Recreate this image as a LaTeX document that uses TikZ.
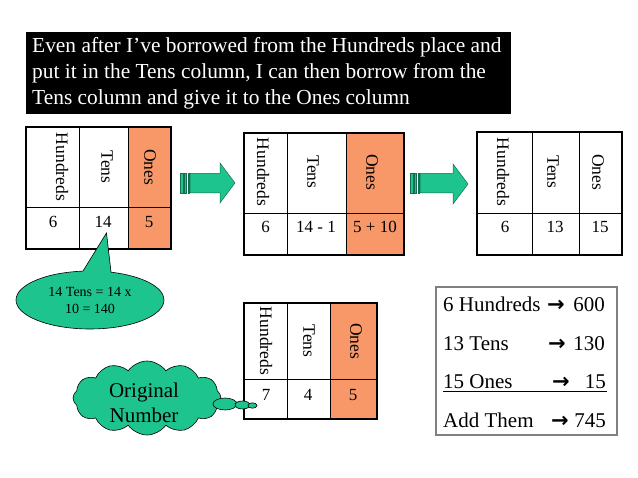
\documentclass[tikz,border=0pt]{standalone}
\usepackage{fontspec}
\setmainfont{Liberation Serif}
\newfontfamily\symfont{DejaVu Sans}
\usetikzlibrary{shapes.symbols,shapes.callouts}
\definecolor{onesorange}{RGB}{248,152,104}
\definecolor{tealgreen}{RGB}{30,196,142}
\definecolor{arrowedge}{RGB}{20,110,80}
\begin{document}
\begin{tikzpicture}[x=1pt,y=-1pt,
  outerline/.style={draw=black,line width=1.6pt},
  innerline/.style={draw=black,line width=0.8pt},
  hdr/.style={font=\fontsize{17.5}{20}\selectfont,rotate=-90,inner sep=0pt},
  num/.style={font=\fontsize{17}{20}\selectfont,anchor=base,inner sep=0pt},
  titletext/.style={font=\fontsize{21.4}{26}\selectfont,text=white,anchor=base west,inner sep=0pt},
  sumtext/.style={font=\fontsize{21}{25}\selectfont,anchor=base west,inner sep=0pt},
  sumnum/.style={font=\fontsize{21}{25}\selectfont,anchor=base east,inner sep=0pt},
  sumarrow/.style={font=\symfont\bfseries\fontsize{21}{25}\selectfont,anchor=base,inner sep=0pt},
  blockarrow/.style={fill=tealgreen,draw=arrowedge,line width=0.5pt},
  greenshape/.style={fill=tealgreen,draw=black,line width=0.6pt}]
\useasboundingbox (0,0) rectangle (638,478);
\fill[white] (0,0) rectangle (638,478);

% title
\fill[black] (26,32) rectangle (511,114);
\node[titletext] (t1) at (32,53) {Even after I’ve borrowed from the Hundreds place and};
\node[titletext] (t2) at (32,79) {put it in the Tens column, I can then borrow from the};
\node[titletext] (t3) at (32,105) {Tens column and give it to the Ones column};

% table 1
\fill[onesorange] (128,127) rectangle (171,249);
\draw[innerline] (26,207) -- (171,207) (79,127) -- (79,249) (128,127) -- (128,249);
\draw[outerline] (26,127) rectangle (171,249);
\node[hdr] (a1) at (62,167) {Hundreds};
\node[hdr] (a2) at (107,167) {Tens};
\node[hdr] (a3) at (150,167) {Ones};
\node[num] (an1) at (53,228) {6};
\node[num] (an2) at (103,228) {14};
\node[num] (an3) at (149,228) {5};

% table 2
\fill[onesorange] (346,133) rectangle (404,255);
\draw[innerline] (244,213) -- (404,213) (287,133) -- (287,255) (346,133) -- (346,255);
\draw[outerline] (244,133) rectangle (404,255);
\node[hdr] (b1) at (263,172) {Hundreds};
\node[hdr] (b2) at (313,172) {Tens};
\node[hdr] (b3) at (372,172) {Ones};
\node[num] (bn1) at (265.5,233) {6};
\node[num] (bn2) at (316,233) {14 - 1};
\node[num] (bn3) at (375,233) {5 + 10};

% table 3
\draw[innerline] (477,213) -- (622,213) (532,132) -- (532,255) (579,132) -- (579,255);
\draw[outerline] (477,132) rectangle (622,255);
\node[hdr] (c1) at (503,172) {Hundreds};
\node[hdr] (c2) at (553,172) {Tens};
\node[hdr] (c3) at (598,172) {Ones};
\node[num] (cn1) at (505,233) {6};
\node[num] (cn2) at (555,233) {13};
\node[num] (cn3) at (600,233) {15};

% table 4
\fill[onesorange] (330,303) rectangle (377,419);
\draw[innerline] (244,379) -- (377,379) (287,303) -- (287,419) (330,303) -- (330,419);
\draw[outerline] (244,303) rectangle (377,419);
\node[hdr] (d1) at (266,341) {Hundreds};
\node[hdr] (d2) at (309,341) {Tens};
\node[hdr] (d3) at (356,341) {Ones};
\node[num] (dn1) at (266,401) {7};
\node[num] (dn2) at (308,401) {4};
\node[num] (dn3) at (353,401) {5};

% block arrow 1
\filldraw[blockarrow] (180,173.5) rectangle (183,193);
\filldraw[blockarrow] (184.3,173.5) rectangle (186.6,193);
\filldraw[blockarrow] (187.8,173.5) rectangle (189.2,193);
\filldraw[blockarrow] (190,173.5) -- (220,173.5) -- (220,163) -- (235,183) -- (220,203) -- (220,193) -- (190,193) -- cycle;

% block arrow 2
\filldraw[blockarrow] (410,173.5) rectangle (413,193);
\filldraw[blockarrow] (414.3,173.5) rectangle (416.6,193);
\filldraw[blockarrow] (417.8,173.5) rectangle (419.2,193);
\filldraw[blockarrow] (420,173.5) -- (453,173.5) -- (453,164) -- (468,184) -- (453,204) -- (453,193) -- (420,193) -- cycle;

% callout
\node[ellipse callout,greenshape,minimum width=148pt,minimum height=58pt,
  callout absolute pointer={(106.5,233)},callout pointer arc=22,
  align=center,font=\fontsize{14}{17}\selectfont,inner sep=0pt] (callout) at (90,300) {14 Tens = 14 x\\10 = 140};

% thought cloud
\node[cloud,greenshape,cloud puffs=12,cloud puff arc=110,aspect=2,
  minimum width=148pt,minimum height=74pt,inner sep=0pt] (cloud) at (147,398) {};
\node[align=center,font=\fontsize{21}{25}\selectfont,inner sep=0pt] (cloudtext) at (144,403) {Original\\Number};
\draw[greenshape] (225,404) ellipse [x radius=12,y radius=6];
\draw[greenshape] (242.5,405) ellipse [x radius=7.5,y radius=4];
\draw[greenshape] (252.5,405.5) ellipse [x radius=4.5,y radius=2.7];

% summary box
\draw[draw=gray,line width=1.2pt] (436,287) rectangle (617,435);
\node[sumtext] (s1) at (443,312) {6 Hundreds};
\node[sumarrow] (s1a) at (556,312) {→};
\node[sumnum] (s1n) at (605,312) {600};
\node[sumtext] (s2) at (443,351) {13 Tens};
\node[sumarrow] (s2a) at (557,351) {→};
\node[sumnum] (s2n) at (605,351) {130};
\node[sumtext] (s3) at (443,389) {15 Ones};
\node[sumarrow] (s3a) at (561,389) {→};
\node[sumnum] (s3n) at (606,389) {15};
\draw[black,line width=0.9pt] (443,391.5) -- (607,391.5);
\node[sumtext] (s4) at (443,428) {Add Them};
\node[sumarrow] (s4a) at (560,428) {→};
\node[sumnum] (s4n) at (606,428) {745};
\end{tikzpicture}
\end{document}
